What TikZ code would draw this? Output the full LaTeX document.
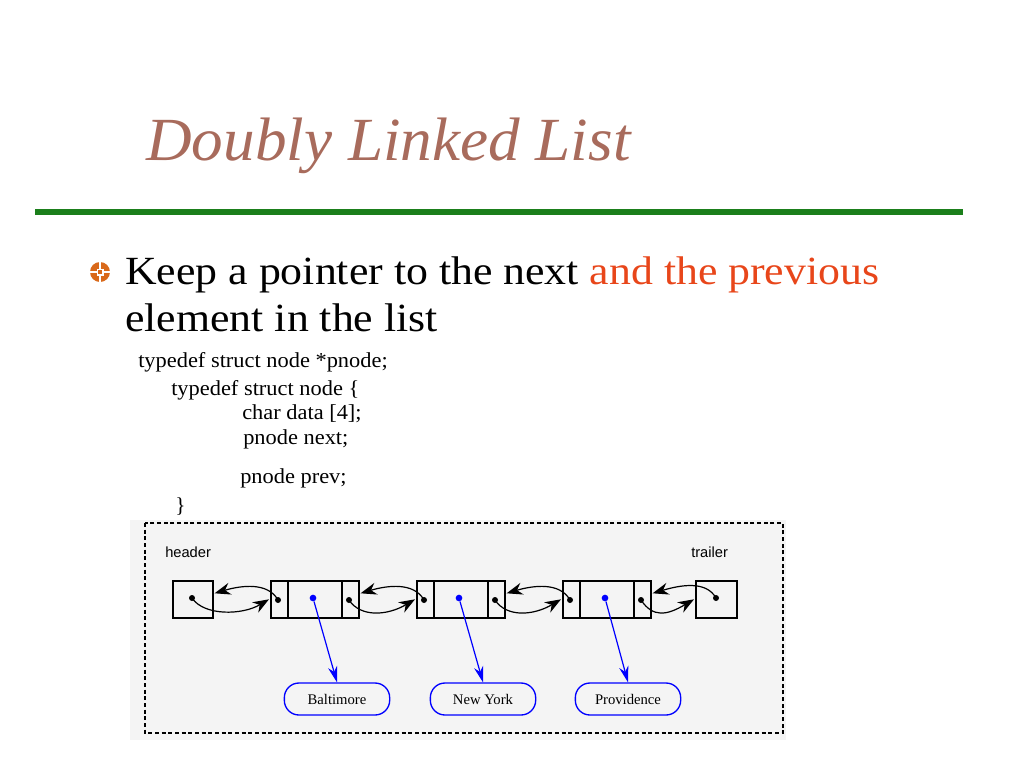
\documentclass[tikz,border=0pt]{standalone}
\usepackage{fontspec}
\setmainfont{Liberation Serif}
\newfontfamily\diagsans{Liberation Sans}
\usetikzlibrary{arrows.meta,calc}
\definecolor{titlec}{HTML}{A86B5C}
\definecolor{rulec}{HTML}{1B7F1B}
\definecolor{hilite}{HTML}{E8461A}
\definecolor{bulc}{HTML}{D9691A}
\definecolor{panel}{HTML}{F4F4F4}
\tikzset{
  cell/.style={draw,line width=1.2pt,minimum height=27.75pt,inner sep=0pt,anchor=north west},
  ptr/.style={circle,fill=black,inner sep=0pt,minimum size=4.5pt},
  bptr/.style={circle,fill=blue,inner sep=0pt,minimum size=5pt},
  link/.style={line width=0.9pt,-{Stealth[length=12pt,width=9pt]}},
  blink/.style={blue,line width=0.9pt,-{Stealth[length=12pt,width=7pt]}},
  bubble/.style={draw=blue,line width=1pt,rounded corners=11pt,minimum width=79pt,minimum height=24pt,inner sep=0pt,font=\fontsize{11}{12}\selectfont},
  code/.style={anchor=base west,inner sep=0pt,font=\fontsize{16}{18}\selectfont},
  lab/.style={anchor=base west,inner sep=0pt,font=\diagsans\fontsize{11}{12}\selectfont}
}
\begin{document}
\begin{tikzpicture}[x=0.75pt,y=-0.75pt]
\useasboundingbox (0,0) rectangle (1024,768);
% title
\node[anchor=base west,inner sep=0pt,text=titlec,font=\fontsize{46}{50}\selectfont\itshape] (title) at (146,160) {\scalebox{1.03}[1]{Doubly Linked List}};
\draw[rulec,line width=4.5pt] (35,212) -- (963,212);
% bullet
\fill[bulc] (100,272) circle (7.5pt);
\draw[white,line width=1.2pt] (89,272) -- (111,272) (100,261) -- (100,283);
\fill[white] (96.5,268.5) rectangle (103.5,275.5);
\fill[bulc] (98,270) rectangle (102,274);
\node[anchor=base west,inner sep=0pt,font=\fontsize{30}{34}\selectfont] (b1) at (125,284) {\scalebox{1.095}[1]{Keep a pointer to the next \textcolor{hilite}{and the previous}}};
\node[anchor=base west,inner sep=0pt,font=\fontsize{30}{34}\selectfont] (b2) at (125,331) {\scalebox{1.095}[1]{element in the list}};
% code
\node[code] (c1) at (138,367) {\scalebox{1.05}[1]{typedef struct node *pnode;}};
\node[code] (c2) at (171,395) {\scalebox{1.05}[1]{typedef struct node \{}};
\node[code] (c3) at (242,419) {\scalebox{1.05}[1]{char data [4];}};
\node[code] (c4) at (243,444) {\scalebox{1.05}[1]{pnode next;}};
\node[code] (c5) at (240,483) {\scalebox{1.05}[1]{pnode prev;}};
\node[code] (c6) at (175,512) {\}};
% panel
\fill[panel] (130,520) rectangle (786,740);
\draw[line width=0.9pt,dash pattern=on 3pt off 2pt] (145,523) rectangle (783,733);
\node[lab] (hl) at (165,557) {header};
\node[lab] (tl) at (691,557) {trailer};
% header/trailer
\node[cell,minimum width=30pt] (H) at (172,580) {};
\node[cell,minimum width=30.75pt] (T) at (695,580) {};
\node[ptr] (dH) at (192,598) {};
\node[ptr] (dT) at (716,598) {};
% list nodes
\foreach \n/\x in {1/270,2/416,3/562}{
  \node[cell,minimum width=12.75pt] (L\n) at (\x,580) {};
  \node[cell,minimum width=40.5pt] (M\n) at (\x+17,580) {};
  \node[cell,minimum width=12.75pt] (R\n) at (\x+71,580) {};
  \node[ptr] (dL\n) at (\x+8,600) {};
  \node[bptr] (dM\n) at (\x+43,598) {};
  \node[ptr] (dR\n) at (\x+79,600) {};
}
% bubbles
\node[bubble] (B1) at (337,699) {Baltimore};
\node[bubble] (B2) at (483,699) {New York};
\node[bubble] (B3) at (628,699) {Providence};
\foreach \n in {1,2,3}{ \draw[blink] (dM\n) -- (B\n.north); }
% links
\foreach \a/\da/\b/\db in {H/dH/L1/dL1, R1/dR1/L2/dL2, R2/dR2/L3/dL3, R3/dR3/T/dT}{
  \draw[link] (\da.center) .. controls ($(\da)+(12,18)$) and ($(\b.west)+(-28,16)$) .. ($(\b.west)+(-1,0)$);
  \draw[link] (\db.center) .. controls ($(\db)+(-10,-18)$) and ($(\a.east)+(28,-14)$) .. ($(\a.east)+(1,-6)$);
}
\end{tikzpicture}
\end{document}
